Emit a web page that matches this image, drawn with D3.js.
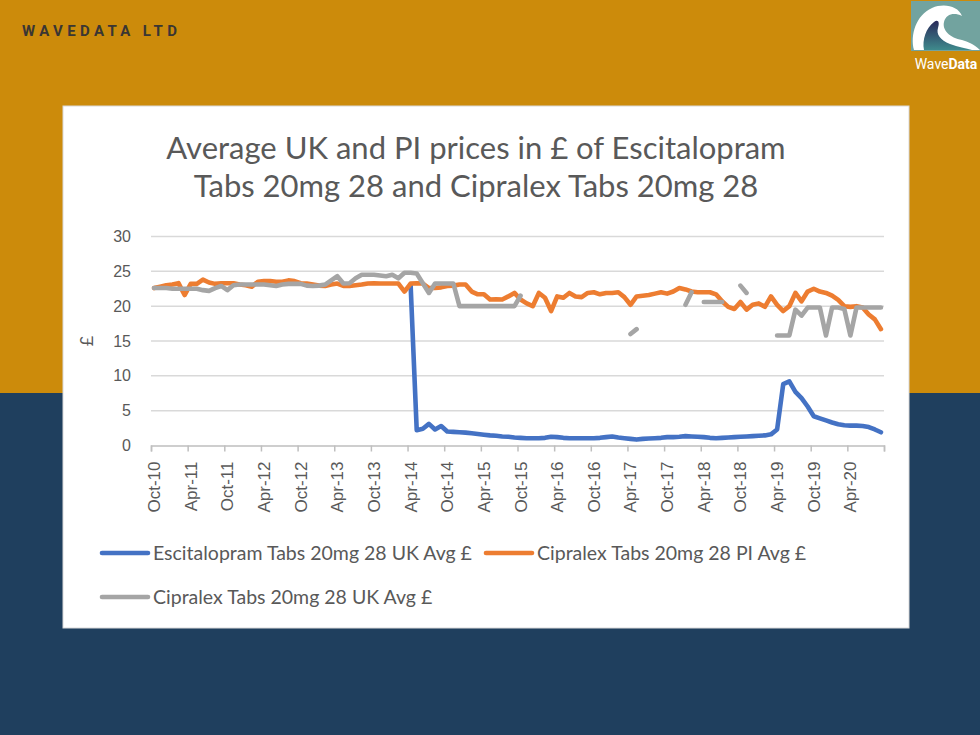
<!DOCTYPE html>
<html><head><meta charset="utf-8">
<script src="https://cdn.jsdelivr.net/npm/d3@7"></script>
<style>html,body{margin:0;padding:0;background:#1f3f5e;} svg{display:block}</style>
</head><body><svg id="c" width="980" height="735"></svg>
<script>
// ---------- DATA ----------
const categories = d3.timeMonth.range(new Date(2010, 9, 1), new Date(2020, 9, 1)).map(d3.timeFormat("%b-%y"));
const tickLabels = ["Oct-10","Apr-11","Oct-11","Apr-12","Oct-12","Apr-13","Oct-13","Apr-14","Oct-14","Apr-15",
                    "Oct-15","Apr-16","Oct-16","Apr-17","Oct-17","Apr-18","Oct-18","Apr-19","Oct-19","Apr-20"];
const yTicks = [0, 5, 10, 15, 20, 25, 30];
const seriesNames = ["Escitalopram Tabs 20mg 28 UK Avg £", "Cipralex Tabs 20mg 28 PI Avg £", "Cipralex Tabs 20mg 28 UK Avg £"];

const escitalopramUK = [
  null,null,null,null,null,null,null,null,null,null,
  null,null,null,null,null,null,null,null,null,null,
  null,null,null,null,null,null,null,null,null,null,
  null,null,null,null,null,null,null,null,null,null,
  null,null,23.1,2.2,2.4,3.1,2.3,2.8,2.0,1.95,
  1.9,1.85,1.75,1.65,1.55,1.45,1.4,1.3,1.25,1.15,
  1.1,1.05,1.05,1.05,1.1,1.25,1.2,1.1,1.05,1.05,
  1.05,1.05,1.05,1.1,1.2,1.3,1.15,1.05,0.95,0.85,
  0.95,1.0,1.05,1.1,1.2,1.2,1.25,1.35,1.3,1.25,
  1.2,1.1,1.05,1.1,1.15,1.2,1.25,1.3,1.35,1.4,
  1.45,1.6,2.3,8.8,9.2,7.7,6.8,5.6,4.2,3.9,
  3.6,3.3,3.05,2.9,2.85,2.85,2.8,2.65,2.3,1.9
];
const cipralexPI = [
  22.6,22.8,23.0,23.1,23.3,21.6,23.2,23.2,23.8,23.4,
  23.2,23.3,23.3,23.3,23.1,23.0,22.8,23.5,23.6,23.6,
  23.5,23.5,23.7,23.6,23.3,23.25,23.1,22.95,22.9,23.1,
  23.25,22.9,22.9,23.0,23.1,23.25,23.3,23.25,23.25,23.25,
  23.25,22.1,23.25,23.3,23.25,22.6,22.6,22.7,22.9,22.95,
  23.1,23.1,22.1,21.7,21.7,20.95,21.0,20.95,21.4,21.9,
  20.95,20.4,20.0,21.9,21.2,19.3,21.4,21.2,21.9,21.4,
  21.3,21.9,22.0,21.7,21.9,21.9,22.0,21.3,20.2,21.4,
  21.5,21.6,21.8,22.0,21.8,22.1,22.6,22.4,22.1,22.0,
  22.0,22.0,21.7,20.7,19.9,19.6,20.6,19.5,20.2,20.4,
  19.9,21.4,20.2,19.3,20.0,21.9,20.7,22.1,22.5,22.1,
  21.9,21.5,20.9,20.0,19.9,20.0,19.8,18.8,18.1,16.7
];
const cipralexUK = [
  22.6,22.6,22.6,22.5,22.5,22.5,22.5,22.5,22.3,22.2,
  22.6,22.9,22.3,23.0,23.1,23.1,23.1,23.1,23.1,23.0,
  22.9,23.1,23.2,23.2,23.2,22.95,22.9,22.95,23.1,23.7,
  24.3,23.25,23.3,24.0,24.5,24.5,24.5,24.4,24.3,24.5,
  24.0,24.8,24.8,24.7,23.3,21.9,23.25,23.25,23.25,23.25,
  20.0,20.0,20.0,20.0,20.0,20.0,20.0,20.0,20.0,20.0,
  21.5,null,null,null,null,null,null,null,null,null,
  null,null,null,null,null,null,null,null,16.0,16.7,
  null,null,null,null,null,null,null,20.2,22.0,null,
  20.6,20.6,20.6,20.6,null,null,22.95,21.9,null,null,
  null,null,15.8,15.8,15.8,19.5,18.65,19.8,19.8,19.8,
  15.8,19.8,19.8,19.6,15.8,19.8,19.8,19.8,19.8,19.8
];
const seriesColors = ["#4472C4", "#ED7D31", "#A5A5A5"];

// ---------- DRAW ----------
const svg = d3.select("#c");
// background bands
svg.append("rect").attr("x",0).attr("y",0).attr("width",980).attr("height",393).attr("fill","#CC8B0B");
svg.append("rect").attr("x",0).attr("y",393).attr("width",980).attr("height",342).attr("fill","#1F3F5E");

// header text
svg.append("text").attr("x",22).attr("y",36).text("WAVEDATA LTD")
  .attr("font-family","Roboto, 'Liberation Sans', sans-serif").attr("font-weight",700)
  .attr("font-size",15).attr("fill","#3a3633")
  .attr("textLength",155).attr("lengthAdjust","spacing");

// logo
const defs = svg.append("defs");
const g1 = defs.append("linearGradient").attr("id","lg1").attr("x1",0).attr("y1",0).attr("x2",0).attr("y2",1);
g1.append("stop").attr("offset","0%").attr("stop-color","#2a2a5a");
g1.append("stop").attr("offset","100%").attr("stop-color","#3f8a8c");
const logo = svg.append("g").attr("transform","translate(910,0)");
logo.append("rect").attr("x",1).attr("y",1).attr("width",70).attr("height",50).attr("fill","#72a39f");
logo.append("path").attr("d","M4,50 C0,35 6,15 22,8 C34,3 48,6 52,16 C44,12 36,14 34,22 C32,30 40,38 52,40 C58,42 64,44 70,50 Z").attr("fill","#ffffff");
logo.append("path").attr("d","M14,50 C12,40 16,28 24,22 C28,19 30,22 28,28 C26,34 30,40 40,44 C48,47 56,48 62,50 Z").attr("fill","url(#lg1)");
logo.append("text").attr("x",36).attr("y",69).attr("text-anchor","middle")
  .attr("font-family","Roboto, sans-serif").attr("font-size",14).attr("fill","#ffffff")
  .call(t => { t.append("tspan").text("Wave"); t.append("tspan").attr("font-weight",700).text("Data"); });

// white chart panel
svg.append("rect").attr("x",63).attr("y",106).attr("width",846).attr("height",522)
  .attr("fill","#ffffff").attr("stroke","#d9d9d9").attr("stroke-width",1);

// title
const title = svg.append("text").attr("text-anchor","middle").attr("fill","#595959")
  .attr("font-family","Lato, 'Open Sans', sans-serif").attr("font-size",31);
title.append("tspan").attr("x",476).attr("y",159).text("Average UK and PI prices in £ of Escitalopram");
title.append("tspan").attr("x",476).attr("y",197).text("Tabs 20mg 28 and Cipralex Tabs 20mg 28");

// scales
const x = d3.scaleLinear().domain([0, categories.length]).range([151, 884]);
const y = d3.scaleLinear().domain([0, 30]).range([445.5, 236.5]);

// gridlines
svg.append("g").selectAll("line").data(yTicks.filter(v => v > 0)).join("line")
  .attr("x1",x(0)).attr("x2",x(categories.length))
  .attr("y1",d => y(d)).attr("y2",d => y(d))
  .attr("stroke","#d9d9d9").attr("stroke-width",1.5);

// y axis labels
const yAxis = d3.axisLeft(y).tickValues(yTicks).tickSize(0).tickPadding(20);
const gy = svg.append("g").attr("transform",`translate(${x(0)},0)`).call(yAxis);
gy.select(".domain").remove();
gy.selectAll("text").attr("font-family","'Liberation Sans', Arial, sans-serif").attr("font-size",16).attr("fill","#595959");

// y axis title
svg.append("text").attr("transform","translate(93,341) rotate(-90)").attr("text-anchor","middle")
  .attr("font-family","Lato, sans-serif").attr("font-size",18).attr("fill","#595959").text("£");

// x axis
const tickIdx = tickLabels.map((_, k) => k * 6);
const xAxis = d3.axisBottom(x).tickValues(tickIdx.concat([categories.length])).tickSize(6).tickFormat("");
const gx = svg.append("g").attr("transform",`translate(0,${y(0)})`).call(xAxis);
gx.select(".domain").attr("stroke","#bfbfbf").attr("stroke-width",1.5);
gx.selectAll(".tick line").attr("stroke","#bfbfbf").attr("stroke-width",1.5);
svg.append("g").selectAll("text").data(tickLabels).join("text")
  .attr("transform",(d,k) => `translate(${x(tickIdx[k] + 0.5)},${y(0) + 16}) rotate(-90)`)
  .attr("text-anchor","end").attr("dy","0.35em")
  .attr("font-family","'Liberation Sans', Arial, sans-serif").attr("font-size",17).attr("fill","#595959")
  .text(d => d);

// lines
const line = d3.line().defined(d => d != null).x((d, i) => x(i + 0.5)).y(d => y(d));
const seriesData = [escitalopramUK, cipralexPI, cipralexUK];
svg.append("g").selectAll("path").data(seriesData).join("path")
  .attr("d", d => line(d)).attr("fill","none")
  .attr("stroke",(d, i) => seriesColors[i]).attr("stroke-width",4.6)
  .attr("stroke-linejoin","round").attr("stroke-linecap","round");

// legend
const legendPos = [[100,553],[484,553],[100,597]];
const lg = svg.append("g").selectAll("g").data(seriesNames).join("g")
  .attr("transform",(d,i) => `translate(${legendPos[i][0]},${legendPos[i][1]})`);
lg.append("line").attr("x1",2).attr("x2",48).attr("y1",0).attr("y2",0)
  .attr("stroke",(d,i) => seriesColors[i]).attr("stroke-width",4.6).attr("stroke-linecap","round");
lg.append("text").attr("x",53).attr("y",0).attr("dy","0.35em")
  .attr("font-family","Lato, sans-serif").attr("font-size",19.5).attr("fill","#595959").text(d => d);
</script></body></html>
